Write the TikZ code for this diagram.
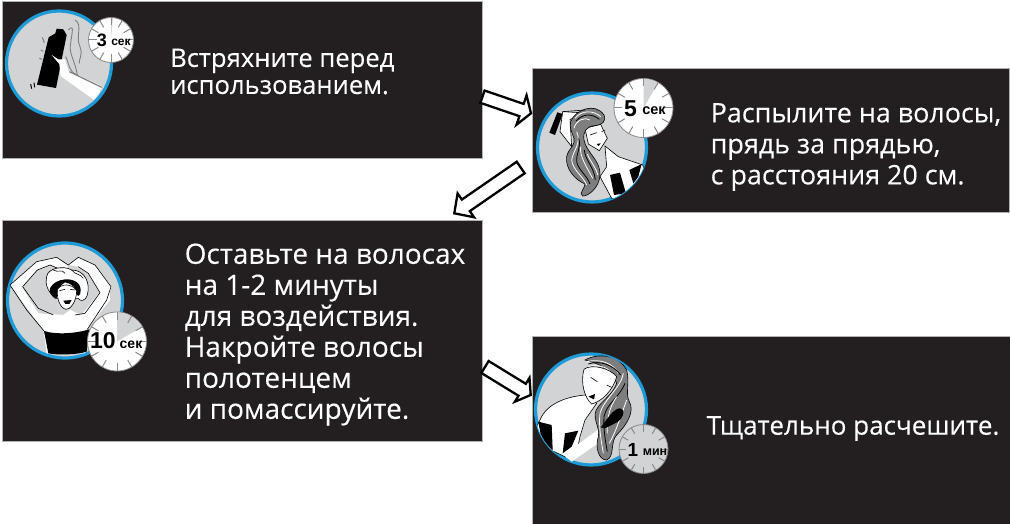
\documentclass[tikz,border=0pt]{standalone}
\usepackage{fontspec}
\setmainfont{Open Sans}[FakeBold=0.25]
\newfontfamily\clockfont{Liberation Sans}[Scale=1]
\usetikzlibrary{calc}
\definecolor{panelc}{HTML}{231F20}
\definecolor{bluec}{HTML}{1E9AD6}
\definecolor{discc}{HTML}{D1D3D4}
\definecolor{tickc}{HTML}{8A8A8A}
\definecolor{hairc}{HTML}{7E7E7E}
\tikzset{
  panel/.style={fill=panelc,draw=gray!60,line width=0.5pt,inner sep=0pt},
  disc/.style={circle,draw=bluec,fill=discc,line width=3.2pt,inner sep=0pt},
  steptext/.style={text=white,align=left,inner sep=0pt,anchor=west},
  clockdisc/.style={circle,draw=tickc,fill=white,line width=0.8pt,inner sep=0pt},
  clocktext/.style={inner sep=0pt,text=black},
  blockarr/.style={draw=black,fill=white,line width=2.3pt,line join=miter},
  blk/.style={fill=black},
  wht/.style={fill=white,draw=black,line width=0.6pt},
  ink/.style={draw=black,line width=0.6pt},
  hr/.style={draw=white,line width=0.8pt},
  hb/.style={draw=black,line width=0.8pt},
  smoke/.style={draw=gray,line width=0.9pt}
}
% \blockarrow{tail}{tip}{half shaft}{half head}{head length}
\newcommand{\blockarrow}[5]{%
  \coordinate (hb) at ($(#2)!#5!(#1)$);
  \draw[blockarr]
    ($(#1)!#3!90:(#2)$) -- ($(hb)!#3!90:(#2)$) -- ($(hb)!#4!90:(#2)$) -- (#2)
    -- ($(hb)!#4!-90:(#2)$) -- ($(hb)!#3!-90:(#2)$) -- ($(#1)!#3!-90:(#2)$) -- cycle;
}
% \clockface{name}{x}{y}{radius}{ticklen}{wedge angle}{fill}
\newcommand{\clockface}[7]{%
  \node[clockdisc,fill=#7,minimum size=#4*2pt] (#1) at (#2,#3) {};
  \ifnum#6>0
    \fill[discc] (#2,#3) -- ++(0,-#4+0.5) arc[start angle=-90,delta angle=#6,radius=#4-0.5] -- cycle;
  \fi
  \foreach \a in {0,30,...,330}
    \draw[tickc,line width=1pt] ($(#2,#3)+({sin(\a)*#4},{-cos(\a)*#4})$) -- ($(#2,#3)+({sin(\a)*(#4-#5)},{-cos(\a)*(#4-#5)})$);
}
\begin{document}
\begin{tikzpicture}[x=1pt,y=-1pt]
\useasboundingbox (0,0) rectangle (1010,524);
\fill[white] (0,0) rectangle (1010,524);
% panels
\node[panel,minimum width=480pt,minimum height=157pt] (p1) at (242,79.5) {};
\node[panel,minimum width=477pt,minimum height=144pt] (p2) at (770.5,140) {};
\node[panel,minimum width=480pt,minimum height=221pt] (p3) at (242,330.5) {};
\node[panel,minimum width=479pt,minimum height=189pt] (p4) at (771.5,430.5) {};

% ---------- step 1 ----------
\node[disc,minimum size=105pt] (d1) at (59,63.5) {};
\begin{scope}[scale=1/3]
  \clip (177,190.5) circle[radius=156];
  \fill[blk] (170,86) -- (190,88) -- (200,105) -- (168,264) -- (111,254) -- (146,112) -- (166,100) -- cycle;
  \fill[white] (155,165) -- (175,178) -- (195,178) -- (205,212) -- (305,258) -- (300,275) -- (282,300) -- (182,228) -- (178,192) -- cycle;
  \draw[smoke] (197,170) .. controls (210,195) and (205,215) .. (232,225);
  \draw[smoke] (205,90) .. controls (225,70) and (215,100) .. (212,130) .. controls (205,160) and (225,180) .. (232,225);
  \draw[smoke] (225,60) .. controls (250,75) and (225,110) .. (240,140) .. controls (250,165) and (235,180) .. (238,190);
  \draw[smoke,line width=1.2pt] (208,215) -- (305,262);
  \draw[draw=black,line width=1pt] (92,252) -- (95,266) (102,248) -- (104,262);
  \draw[gray,line width=1pt] (127,112) -- (133,128) (122,150) -- (130,154) (118,175) -- (126,178);
\end{scope}
\clockface{c1}{111}{40}{22.5}{8}{5}{white}
\node[clocktext,font=\clockfont\bfseries\fontsize{18}{18}\selectfont] (c1n) at (102,40) {3};
\node[clocktext,font=\clockfont\bfseries\fontsize{12}{12}\selectfont] (c1u) at (121,42.5) {сек};
\node[steptext,font=\fontsize{25.6}{27}\selectfont] (t1) at (170,71.5) {Встряхните перед\\использованием.};

% ---------- step 2 ----------
\node[disc,minimum size=109pt] (d2) at (592,147.5) {};
\begin{scope}[shift={(470,60)},scale=1/3]
  \clip (367,262) circle[radius=165];
  % arm and body
  \fill[wht] (278,155) -- (330,158) -- (325,170) -- (300,178) -- (305,260) -- (270,215) -- cycle;
  \fill[wht] (405,258) -- (445,290) -- (518,315) -- (528,345) -- (480,415) -- (425,415) -- (390,350) -- (410,320) -- cycle;
  \fill[wht] (345,205) -- (392,193) -- (412,235) -- (388,272) -- (355,252) -- cycle;
  \draw[ink] (360,225) -- (380,218) (395,215) -- (405,210);
  \fill[black] (380,252) -- (392,250) -- (386,258) -- cycle;
  % hair
  \fill[hairc,draw=black,line width=0.6pt] (302,185) .. controls (315,150) and (375,125) .. (402,165)
     .. controls (410,185) and (395,195) .. (375,197) .. controls (350,198) and (338,215) .. (342,240)
     .. controls (350,280) and (392,300) .. (390,345) .. controls (388,385) and (352,410) .. (338,408)
     .. controls (325,400) and (345,385) .. (345,372) .. controls (315,360) and (285,325) .. (290,290)
     .. controls (295,265) and (318,255) .. (312,235) .. controls (305,215) and (297,200) .. (302,185) -- cycle;
  \draw[hr] (315,175) .. controls (335,150) and (370,150) .. (392,170);
  \draw[hb] (318,183) .. controls (340,160) and (365,160) .. (388,178);
  \draw[hr] (320,215) .. controls (335,250) and (310,270) .. (305,300) .. controls (308,330) and (340,350) .. (350,375);
  \draw[hb] (326,235) .. controls (335,260) and (318,280) .. (320,305) .. controls (325,330) and (350,345) .. (360,372);
  \draw[hr] (332,260) .. controls (328,290) and (350,320) .. (368,355);
  \draw[hb] (343,270) .. controls (345,300) and (372,320) .. (376,360);
  \draw[hr] (352,282) .. controls (358,300) and (380,325) .. (383,345);
  \draw[hr] (312,205) .. controls (318,180) and (345,170) .. (360,180);
  % bottle
  \fill[blk] (262,157) -- (278,162) -- (255,225) -- (238,218) -- cycle;
  \draw[ink] (278,155) -- (345,150);
  % straps
  \fill[blk] (420,345) -- (450,338) -- (468,400) -- (432,405) -- cycle;
  \fill[blk] (478,330) -- (515,312) -- (505,350) -- (490,370) -- cycle;
\end{scope}
\clockface{c2}{643.5}{108}{29.5}{8}{30}{white}
\node[clocktext,font=\clockfont\bfseries\fontsize{23}{23}\selectfont] (c2n) at (630.5,108.5) {5};
\node[clocktext,font=\clockfont\bfseries\fontsize{14.5}{14.5}\selectfont] (c2u) at (654,111) {сек};
\node[steptext,font=\fontsize{26.9}{31}\selectfont] (t2) at (710.5,147) {Распылите на волосы,\\прядь за прядью,\\с расстояния 20 см.};

% ---------- step 3 ----------
\node[disc,minimum size=115pt] (d3) at (65,300.5) {};
\begin{scope}[shift={(0,220)},scale=1/3]
  \clip (197,242) circle[radius=174];
  % body
  \fill[white] (30,195) -- (65,200) -- (115,280) -- (190,285) -- (210,270) -- (245,285) -- (300,215) -- (330,200) -- (330,240) -- (260,330) -- (255,400) -- (140,400) -- (130,330) -- cycle;
  \draw[ink] (30,195) -- (80,270) -- (132,333);
  \draw[ink] (68,200) -- (115,265) -- (160,285);
  \draw[ink] (320,240) -- (262,328);
  \draw[ink] (300,218) -- (255,280) -- (225,285);
  % arms
  \fill[white] (30,195) -- (110,125) -- (170,112) -- (205,140) -- (190,150) -- (150,135) -- (112,150) -- (68,200) -- cycle;
  \draw[ink] (30,195) -- (110,125) -- (170,112) -- (205,135);
  \draw[ink] (68,200) -- (112,150) -- (150,135) -- (185,150);
  \fill[white] (205,135) -- (235,112) -- (285,135) -- (335,200) -- (320,240) -- (300,218) -- (265,160) -- (235,140) -- cycle;
  \draw[ink] (205,135) -- (235,112) -- (285,135) -- (333,200) -- (320,240);
  \draw[ink] (300,218) -- (265,160) -- (235,140);
  % hair and head
  \fill[wht] (140,170) .. controls (142,145) and (190,135) .. (215,150) .. controls (255,150) and (272,190) .. (262,225) .. controls (255,245) and (240,245) .. (235,235) -- (165,235) .. controls (140,210) and (135,190) .. (140,170) -- cycle;
  \draw[ink] (160,150) .. controls (175,160) and (185,145) .. (195,160) (215,150) .. controls (225,165) and (240,160) .. (250,175);
  \fill[black] (150,205) .. controls (165,172) and (225,170) .. (238,195) .. controls (248,215) and (238,235) .. (230,225) .. controls (232,205) and (215,190) .. (195,187) .. controls (180,195) and (170,215) .. (170,235) .. controls (155,232) and (147,218) .. (150,205) -- cycle;
  \fill[wht] (172,208) .. controls (185,190) and (215,190) .. (230,212) .. controls (230,245) and (210,270) .. (198,268) .. controls (180,265) and (170,235) .. (172,208) -- cycle;
  \fill[black] (190,242) -- (215,240) -- (208,252) -- (196,252) -- cycle;
  \draw[ink] (178,212) -- (195,208) (210,208) -- (225,210);
  % top
  \fill[blk] (132,333) .. controls (170,345) and (230,340) .. (268,328) -- (260,395) .. controls (230,405) and (170,405) .. (145,400) -- cycle;
\end{scope}
\clockface{c3}{117}{341.5}{29.5}{8}{60}{white}
\node[clocktext,font=\clockfont\bfseries\fontsize{23}{23}\selectfont] (c3n) at (103,341) {10};
\node[clocktext,font=\clockfont\bfseries\fontsize{14}{14}\selectfont] (c3u) at (131,345) {сек};
\node[steptext,font=\fontsize{28}{31}\selectfont] (t3) at (184.5,334.5) {Оставьте на волосах\\на 1-2 минуты\\для воздействия.\\Накройте волосы\\полотенцем\\и помассируйте.};

% ---------- step 4 ----------
\node[disc,minimum size=111pt] (d4) at (591,409.5) {};
\begin{scope}[shift={(470,340)},scale=1/3]
  \clip (362,209) circle[radius=167];
  % body and arm
  \fill[wht] (210,240) .. controls (230,190) and (290,170) .. (345,165) -- (380,190) -- (345,240) -- (330,290) -- (320,340) -- (285,350) -- (220,320) -- (200,260) -- cycle;
  \fill[white] (280,345) -- (390,265) -- (420,285) -- (305,365) -- cycle;
  % hair
  \fill[hairc,draw=black,line width=0.6pt] (345,60) .. controls (390,35) and (450,50) .. (470,90)
     .. controls (480,130) and (465,160) .. (478,185) .. controls (495,215) and (470,255) .. (440,285)
     .. controls (420,305) and (435,350) .. (410,360) .. controls (385,360) and (375,320) .. (385,290)
     .. controls (392,260) and (360,230) .. (385,200) .. controls (400,180) and (430,160) .. (440,130)
     .. controls (420,80) and (380,70) .. (345,60) -- cycle;
  \draw[hr] (350,65) .. controls (390,55) and (430,70) .. (445,100);
  \draw[hb] (355,72) .. controls (390,60) and (430,75) .. (452,105);
  \draw[hr] (355,80) .. controls (390,70) and (420,85) .. (432,110);
  \draw[hr] (460,100) .. controls (455,140) and (400,180) .. (390,220) .. controls (385,260) and (395,310) .. (400,340);
  \draw[hb] (465,130) .. controls (450,170) and (410,190) .. (402,230) .. controls (400,260) and (405,300) .. (412,335);
  \draw[hr] (470,180) .. controls (455,220) and (440,270) .. (418,310);
  \draw[hr] (440,170) .. controls (420,200) and (410,230) .. (412,280);
  % face
  \fill[wht] (342,88) .. controls (365,70) and (420,85) .. (440,110) .. controls (430,150) and (395,185) .. (365,192) .. controls (345,175) and (330,130) .. (342,88) -- cycle;
  \draw[ink] (362,112) -- (382,125) (410,135) -- (425,142);
  \fill[black] (355,170) -- (375,162) -- (372,178) -- cycle;
  % brush
  \fill[blk] (392,262) .. controls (410,240) and (430,205) .. (450,205) .. controls (470,210) and (458,240) .. (435,250) -- (405,265) -- cycle;
  % straps
  \fill[blk] (205,245) -- (245,255) -- (248,330) -- (240,340) -- (215,300) -- cycle;
  \fill[blk] (285,280) -- (325,272) -- (305,320) -- (278,340) -- cycle;
\end{scope}
\clockface{c4}{643.5}{449}{24.5}{7}{0}{discc}
\node[clocktext,font=\clockfont\bfseries\fontsize{19}{19}\selectfont] (c4n) at (633,449.5) {1};
\node[clocktext,font=\clockfont\bfseries\fontsize{12.5}{12.5}\selectfont] (c4u) at (655,452) {мин};
\node[steptext,font=\fontsize{26}{31}\selectfont] (t4) at (706.5,428.5) {Тщательно расчешите.};

% ---------- connectors ----------
\coordinate (a1) at (482.5,96.7);  \coordinate (b1) at (531,113.3);
\coordinate (a2) at (520.7,167.5); \coordinate (b2) at (454.3,213.3);
\coordinate (a3) at (485,367);     \coordinate (b3) at (530.7,395);
\blockarrow{a1}{b1}{6.5pt}{15.5pt}{10pt}
\blockarrow{a2}{b2}{7pt}{14.5pt}{14pt}
\blockarrow{a3}{b3}{7pt}{14pt}{10pt}
\end{tikzpicture}
\end{document}
